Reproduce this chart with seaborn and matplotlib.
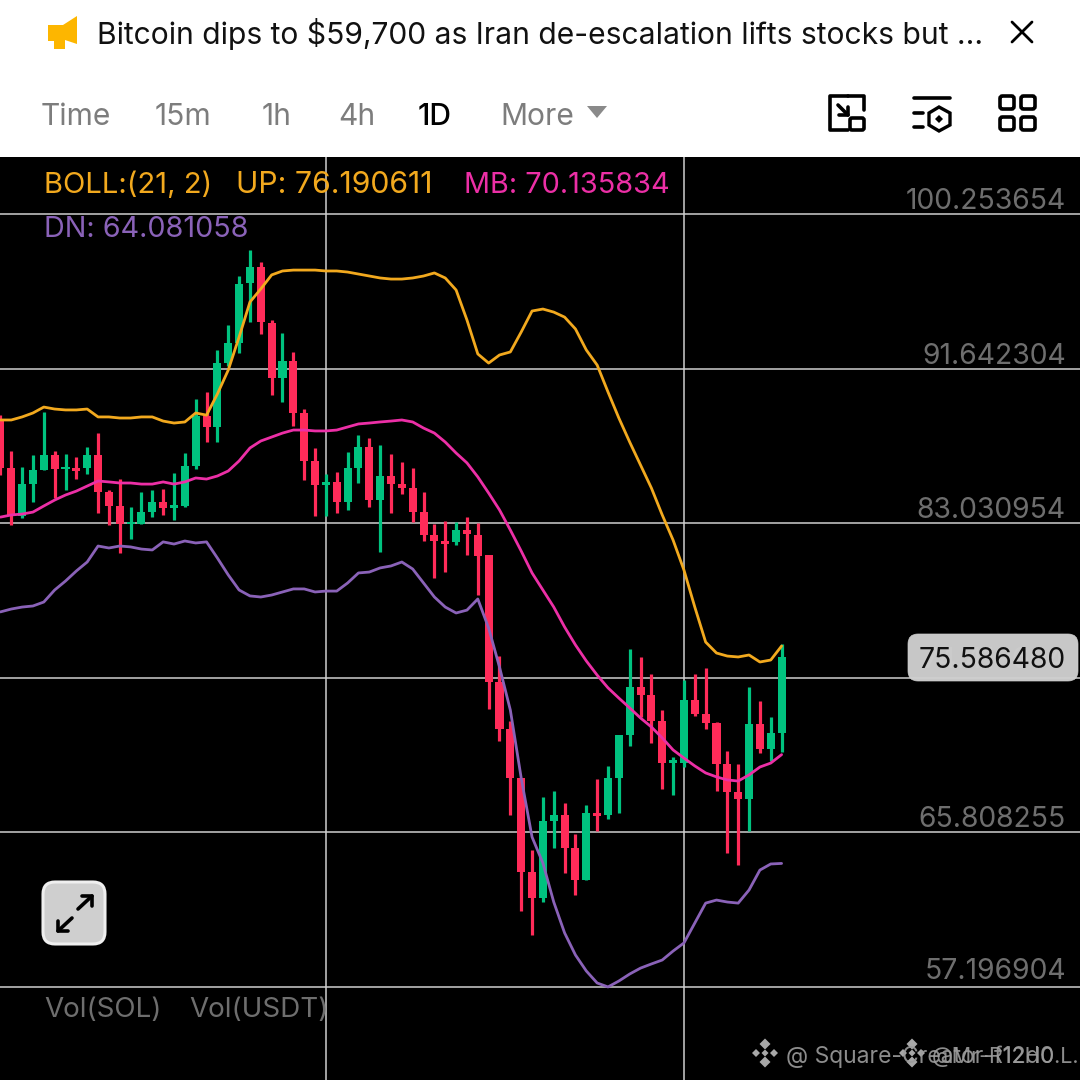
import numpy as np
import pandas as pd
import matplotlib
matplotlib.use("Agg")
import matplotlib.pyplot as plt
from matplotlib.patches import FancyBboxPatch, Polygon, Rectangle
from matplotlib.lines import Line2D
import seaborn as sns

# ---- data (SOL/USDT daily candles, Bollinger 21,2) ----
high = [89.05,87.05,86.16,86.83,89.22,87.05,86.88,86.72,87.27,88.05,84.88,85.49,83.93,84.77,84.88,84.94,85.83,86.94,89.95,90.34,
        92.68,94.07,96.80,98.25,97.58,94.35,93.63,92.57,89.39,87.22,85.77,85.88,87.00,87.95,87.78,87.39,86.88,86.44,86.11,84.77,
        82.98,83.15,83.10,83.37,83.04,81.26,75.63,72.01,68.84,64.83,67.78,68.11,67.45,65.72,67.34,68.78,69.51,71.23,76.02,75.58,
        74.63,72.62,70.01,74.30,74.63,74.97,71.96,70.34,69.62,73.91,73.13,72.24,76.30]
low = [85.72,82.93,83.32,84.21,85.99,84.43,84.88,85.49,85.77,83.60,82.93,81.37,82.15,82.98,83.37,83.49,83.21,83.93,86.05,87.55,
       87.55,91.79,92.51,94.24,93.57,90.17,89.78,88.44,85.44,83.43,83.43,83.60,83.77,85.27,83.93,81.43,83.60,84.66,83.10,82.04,
       79.98,80.31,81.82,81.26,79.03,72.68,70.90,66.78,61.43,60.09,61.93,64.94,63.55,62.32,63.16,65.89,66.55,66.89,70.62,72.24,
       70.79,68.22,67.89,69.45,72.29,71.57,68.11,64.66,63.99,65.89,70.23,69.79,70.29]
open_ = [88.78,86.11,83.43,85.21,85.99,86.83,86.05,86.11,86.11,86.83,84.77,83.99,82.98,82.98,83.65,84.21,83.88,83.99,86.22,89.00,
         88.39,91.95,93.07,96.41,97.30,94.18,91.12,92.07,89.17,86.50,85.16,85.33,84.21,86.11,87.27,84.32,85.66,85.21,84.99,83.65,
         82.37,82.04,81.99,82.65,82.37,81.26,74.19,71.57,68.84,63.60,62.15,66.44,66.78,64.94,63.16,66.89,66.78,68.84,71.23,73.91,
         73.46,72.01,69.67,69.67,73.18,72.40,71.90,69.62,68.06,67.67,71.85,70.45,71.34]
close = [86.11,83.43,85.21,85.99,86.83,86.05,86.16,85.94,86.83,84.77,83.99,82.98,83.10,83.65,84.21,83.88,84.04,86.22,89.00,88.39,
         91.95,93.07,96.36,97.30,94.24,91.12,92.07,89.17,86.50,85.16,85.33,84.21,86.11,87.27,84.32,85.66,85.21,84.99,83.65,82.37,
         82.04,81.87,82.65,82.43,81.21,74.19,71.57,68.84,63.60,62.15,66.44,66.78,64.94,63.16,66.89,66.72,68.84,71.23,73.91,73.46,
         72.01,69.67,69.84,73.18,72.40,71.90,69.62,68.06,67.67,71.85,70.45,71.34,75.58]
boll_up = [88.78,88.78,88.95,89.17,89.50,89.39,89.34,89.34,89.39,88.95,88.95,88.89,88.89,88.95,88.95,88.72,88.61,88.67,89.17,89.05,
           90.23,91.56,93.40,95.35,96.08,96.86,97.08,97.13,97.13,97.13,97.08,97.08,97.02,96.91,96.80,96.69,96.63,96.63,96.69,96.80,
           96.97,96.69,96.02,94.35,92.46,91.95,92.40,92.57,93.68,94.85,94.96,94.79,94.51,93.85,92.68,91.84,90.34,88.89,87.55,86.27,
           84.99,83.49,82.09,80.42,78.36,76.41,75.80,75.63,75.58,75.69,75.30,75.41,76.19]
boll_mb = [83.37,83.49,83.54,83.65,83.99,84.32,84.60,84.82,85.10,85.38,85.33,85.27,85.27,85.21,85.21,85.33,85.21,85.33,85.55,85.49,
           85.66,85.94,86.50,87.22,87.61,87.83,88.05,88.22,88.22,88.17,88.17,88.22,88.39,88.56,88.61,88.67,88.72,88.78,88.67,88.33,
           88.05,87.55,86.94,86.39,85.61,84.71,83.77,82.65,81.48,80.26,79.31,78.36,77.25,76.25,75.36,74.57,73.86,73.29,72.74,72.18,
           71.68,71.07,70.40,69.95,69.51,69.12,68.90,68.73,68.67,69.01,69.45,69.67,70.14]
boll_dn = [78.09,78.25,78.36,78.42,78.64,79.31,79.81,80.37,80.87,81.76,81.65,81.76,81.71,81.59,81.54,81.99,81.87,82.04,81.93,81.99,
           81.09,80.15,79.31,78.98,78.92,79.03,79.20,79.37,79.37,79.20,79.25,79.25,79.70,80.26,80.31,80.54,80.65,80.87,80.48,79.70,
           78.92,78.36,78.03,78.19,78.81,77.19,75.02,72.62,68.84,65.55,64.10,61.93,60.21,58.98,58.09,57.42,57.20,57.53,57.92,58.25,
           58.48,58.70,59.20,59.65,60.76,61.87,62.04,61.93,61.87,62.60,63.71,64.05,64.08]
price_ticks = [100.253654, 91.642304, 83.030954, 74.419604, 65.808255, 57.196904]
tick_labels = ["100.253654", "91.642304", "83.030954", "74.419604", "65.808255", "57.196904"]
vgrid_candles = [30, 63]
last_price = "75.586480"
headline = "Bitcoin dips to $59,700 as Iran de-escalation lifts stocks but ..."
tabs = ["Time", "15m", "1h", "4h", "1D", "More"]

RED, GREEN = "#FF2B59", "#00C27F"
ORANGE, MAGENTA, PURPLE = "#F2A91E", "#EC2FA6", "#8A62B8"
GRID = "#CFCFCF"
FONT = "Inter"

sns.set_theme(style="dark", rc={"axes.facecolor": "black", "figure.facecolor": "white"})
plt.rcParams["font.family"] = [FONT, "DejaVu Sans"]

fig = plt.figure(figsize=(10.8, 10.8), dpi=100)
ax = fig.add_axes([0, 0, 1, (1080 - 157) / 1080])
df = pd.DataFrame({"i": np.arange(len(close)), "open": open_, "high": high, "low": low, "close": close,
                   "up": boll_up, "mb": boll_mb, "dn": boll_dn})
up_mask = df.close >= df.open
colors = np.where(up_mask, GREEN, RED)

for t in price_ticks:
    ax.axhline(t, color=GRID, lw=1.1, zorder=1)
for c in vgrid_candles:
    ax.axvline(c, color=GRID, lw=1.1, zorder=1)

ax.vlines(df.i, df.low, df.high, colors=colors, lw=2.3, zorder=2)
ax.bar(df.i, (df.close - df.open).abs(), bottom=df[["open", "close"]].min(axis=1),
       width=0.74, color=colors, linewidth=0, zorder=3)
for col, colr in [("up", ORANGE), ("mb", MAGENTA), ("dn", PURPLE)]:
    sns.lineplot(data=df, x="i", y=col, color=colr, lw=2.0, ax=ax, zorder=4, legend=False, errorbar=None)

px_step = 10.85
ax.set_xlim(-0.4 / px_step, (1080 - 0.4) / px_step)
slope = (price_ticks[0] - price_ticks[-1]) / (987 - 214)
ax.set_ylim(price_ticks[-1] - (1080 - 987) * slope, price_ticks[0] + (214 - 157) * slope)
ax.set_xticks([]); ax.set_yticks([]); ax.set_xlabel(""); ax.set_ylabel("")
for s in ax.spines.values():
    s.set_visible(False)

# overlay in pixel coordinates for the app's chrome
ov = fig.add_axes([0, 0, 1, 1], facecolor="none")
ov.set_xlim(0, 1080); ov.set_ylim(1080, 0); ov.axis("off")

def txt(x, y, s, size, color, ha="left", z=10, **kw):
    ov.text(x, y, s, fontsize=size, color=color, ha=ha, va="baseline", zorder=z, **kw)

def box(x0, y0, x1, y1, r, fc="none", ec="black", lw=2.6, z=10, alpha=None):
    ov.add_patch(FancyBboxPatch((x0 + r, y0 + r), x1 - x0 - 2 * r, y1 - y0 - 2 * r,
                                boxstyle=f"round,pad={r}", fc=fc, ec=ec, lw=lw, zorder=z, alpha=alpha))

def seg(xs, ys, color="black", lw=2.6):
    ov.add_line(Line2D(xs, ys, color=color, lw=lw, zorder=11, solid_capstyle="round"))

# header
txt(97, 44, headline, 21.6, "#111111")
ov.add_patch(Polygon([[48, 25], [63, 25], [77, 16], [77, 44], [65, 40], [65, 49], [54, 49], [54, 41], [48, 41]],
                     fc="#FDB600", ec="none", zorder=10))
seg([1012, 1032], [22, 42], lw=2.0); seg([1032, 1012], [22, 42], lw=2.0)

tab_x = [41, 155, 262, 338, 418, 500]
for s, x in zip(tabs, tab_x):
    txt(x, 125, s, 21.6, "#000000" if s == "1D" else "#7D7D7D", weight="medium" if s == "1D" else "normal")
ov.add_patch(Polygon([[587, 106], [607, 106], [597, 118]], fc="#8A8A8A", ec="none", zorder=10))

# toolbar icons
seg([848, 830, 830, 848], [96, 96, 130, 130]); seg([848, 864, 864], [96, 96, 110])
box(850, 118, 864, 130, 2)
seg([838, 848], [105, 115]); seg([848, 848, 839], [107, 115, 115])
seg([914, 950], [98, 98]); seg([914, 923], [113, 113]); seg([914, 923], [127, 127])
ov.add_patch(Polygon([[939, 107], [950, 113], [950, 125], [939, 131], [929, 125], [929, 113]], fc="none", ec="black", lw=2.4, zorder=10))
ov.add_patch(Polygon([[939, 115], [943, 119], [939, 123], [935, 119]], fc="black", ec="none", zorder=10))
for (a, b) in [(1000, 96), (1021, 96), (1000, 117), (1021, 117)]:
    box(a, b, a + 14, b + 13, 2.5)

# legend line
txt(44, 193, "BOLL:(21, 2)", 21, ORANGE)
txt(236, 193, f"UP: {76.190611:.6f}", 21.8, ORANGE)
txt(464, 193, f"MB: {70.135834:.6f}", 20.8, MAGENTA)
txt(44, 237, f"DN: {64.081058:.6f}", 20.7, PURPLE)

# price labels
for lab, y in zip(tick_labels, [209, 364, 518, 668, 827, 979]):
    txt(1066, y, lab, 20.4, "#6E6E6E", ha="right", z=8)
box(908, 634, 1078, 681, 10, fc="#CFCFCF", ec="#CFCFCF", lw=0.5, z=9, alpha=0.97)
txt(1066, 668, last_price, 20.4, "#111111", ha="right")

# expand button
box(43, 882, 105, 944, 12, fc="#CFCFCF", ec="#EFEFEF", lw=2.2)
seg([78, 92], [909, 896]); seg([82, 92, 92], [896, 896, 906])
seg([72, 58], [918, 931]); seg([58, 58, 68], [921, 931, 931])

txt(44, 1017, "Vol(SOL)", 20, "#6E6E6E")
txt(189, 1017, "Vol(USDT)", 20, "#6E6E6E")

# watermark
for cx in (765, 912):
    for dx, dy, r in [(-9, 0, 4), (9, 0, 4), (0, -9, 5.5), (0, 9, 5.5), (0, 0, 3.5)]:
        ov.add_patch(Polygon([[cx + dx, 1053 + dy - r], [cx + dx + r, 1053 + dy], [cx + dx, 1053 + dy + r], [cx + dx - r, 1053 + dy]],
                             fc="#A8A8A8", ec="none", zorder=10))
txt(786, 1063, "@ Square-Creator-f12d0", 16.5, "#9C9C9C", alpha=0.9)
txt(932, 1063, "@Mr-R12H0.L.", 15.5, "#9C9C9C", alpha=0.9)

fig.savefig("out.png", dpi=100)
